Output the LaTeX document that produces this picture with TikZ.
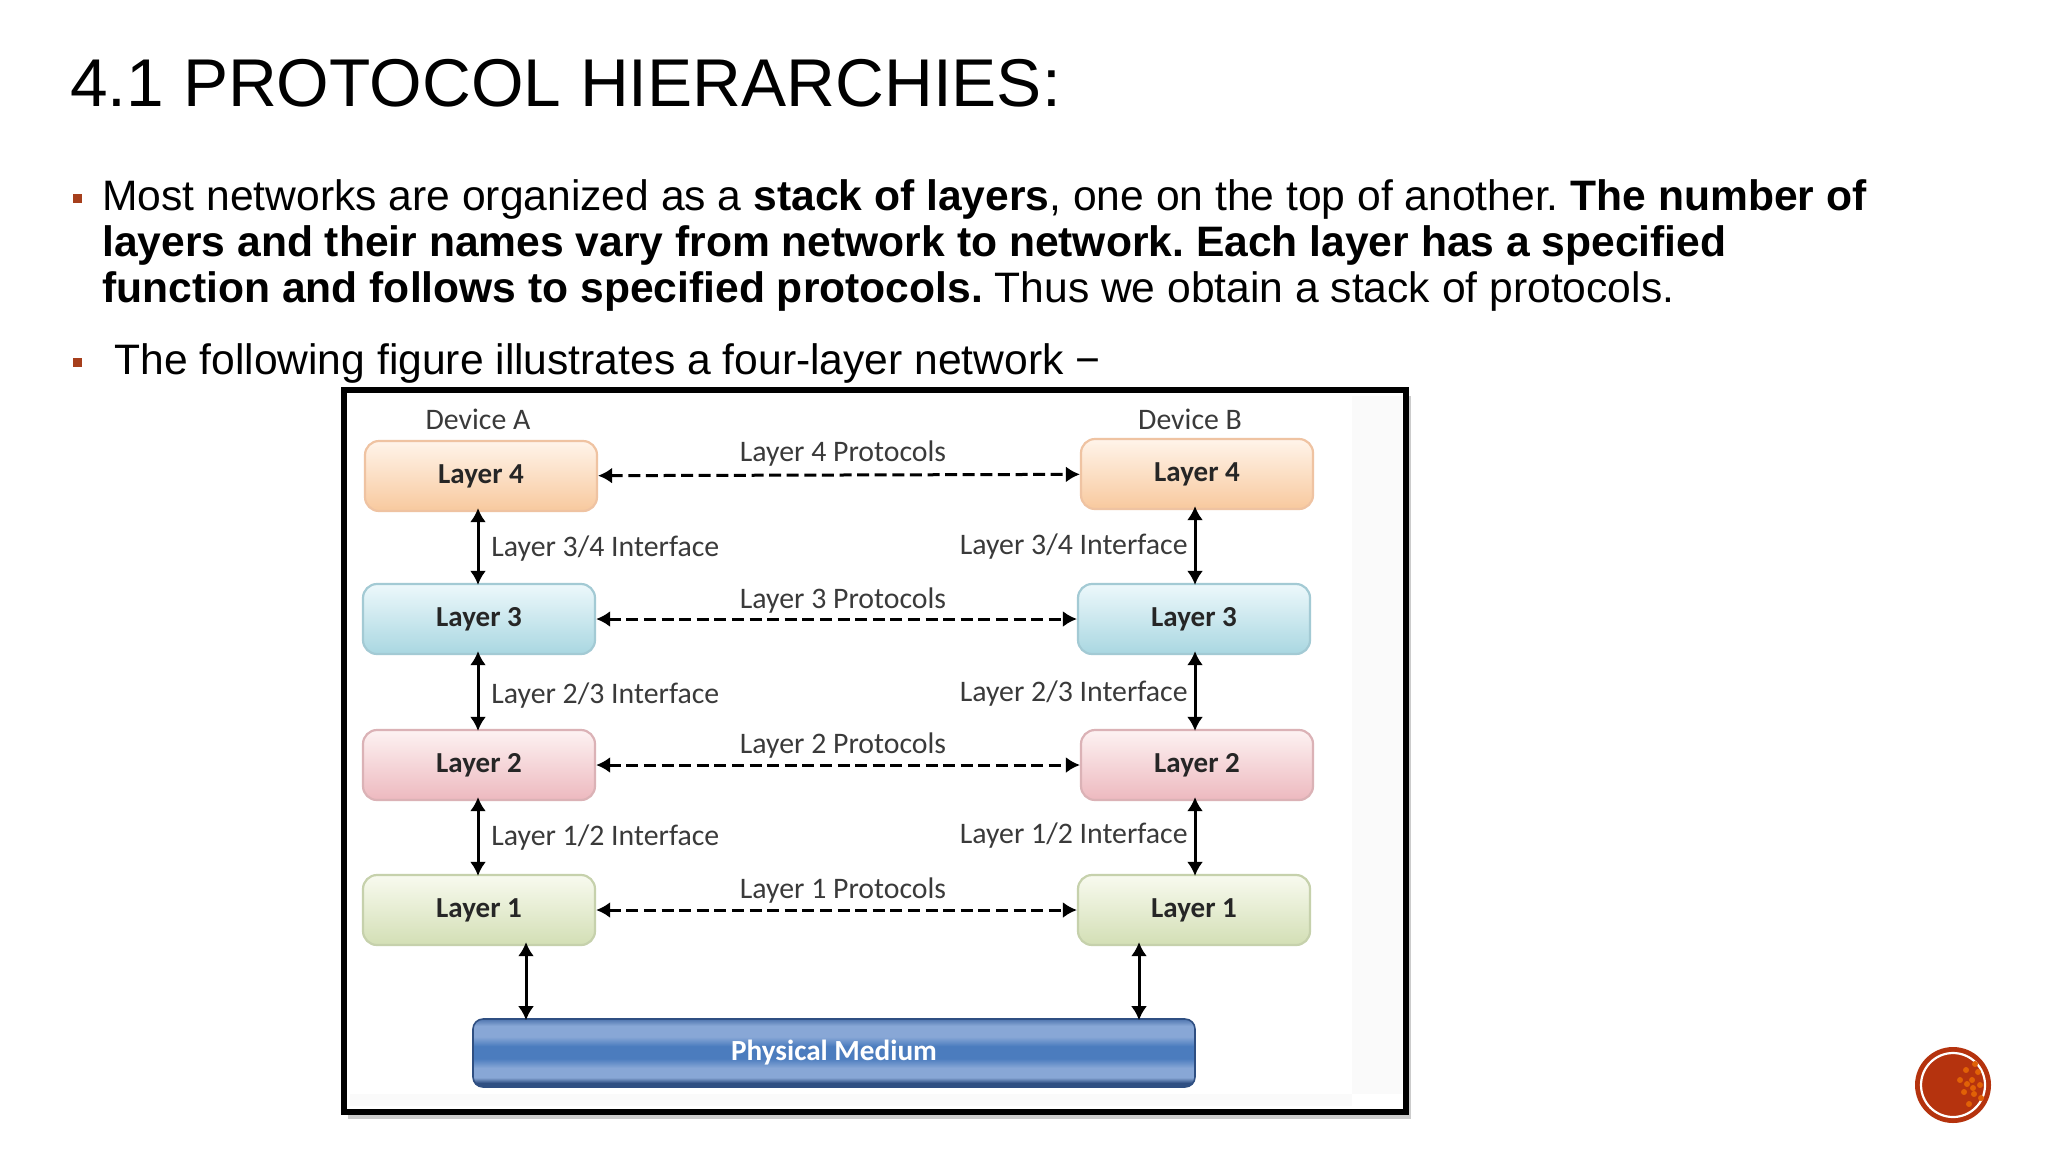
\documentclass[tikz,border=0pt]{standalone}
\usepackage{fontspec}
\setmainfont{Liberation Sans}
\newfontfamily\figfont{Carlito}
\usetikzlibrary{arrows.meta}
\definecolor{slideRed}{HTML}{B5330E}
\definecolor{slideRust}{HTML}{A63F1C}
\definecolor{labelGray}{HTML}{3A3A3A}
\definecolor{orangeTop}{HTML}{FFF4EA}\definecolor{orangeBot}{HTML}{F8C99E}\definecolor{orangeEdge}{HTML}{EFC3A2}
\definecolor{blueTop}{HTML}{EDF8FB}\definecolor{blueBot}{HTML}{A9D7E1}\definecolor{blueEdge}{HTML}{A3CAD4}
\definecolor{redTop}{HTML}{FDF2F2}\definecolor{redBot}{HTML}{EDB9BF}\definecolor{redEdge}{HTML}{DBB2B6}
\definecolor{greenTop}{HTML}{F8FAEF}\definecolor{greenBot}{HTML}{D3DFB5}\definecolor{greenEdge}{HTML}{C6D1AC}
\definecolor{phyDark}{HTML}{2F4F82}\definecolor{phyLight}{HTML}{88A7D6}\definecolor{phyMid}{HTML}{4B7CBE}\definecolor{phyEdge}{HTML}{4F75AE}
\pgfdeclareverticalshading{physical shade}{100bp}{
  color(0bp)=(phyDark);color(28bp)=(phyDark);color(32bp)=(phyLight);color(39bp)=(phyLight);color(46bp)=(phyMid);color(55bp)=(phyMid);color(62bp)=(phyLight);color(70bp)=(phyLight);color(75bp)=(phyEdge);color(100bp)=(phyEdge)}
\tikzset{
  layer box/.style={draw=#1Edge, line width=1.1pt, rounded corners=7pt, top color=#1Top, bottom color=#1Bot, minimum width=116pt, minimum height=35pt, inner sep=0pt, font=\figfont\bfseries\fontsize{14.5}{16}\selectfont, text=black!85},
  layer arrow/.style={draw=black, line width=1.5pt, {Latex[length=7pt,width=8pt]}-{Latex[length=7pt,width=8pt]}},
  proto arrow/.style={layer arrow, dash pattern=on 6pt off 2.8pt},
  fig label/.style={font=\figfont\fontsize{14.9}{16}\selectfont, text=labelGray, inner sep=0pt},
  bullet mark/.style={fill=slideRust, minimum size=4.5pt, inner sep=0pt},
  body text/.style={anchor=north west, align=left, inner sep=0pt, font=\frenchspacing\fontsize{21.3}{23}\selectfont},
}
\begin{document}
\begin{tikzpicture}[x=.5pt,y=-.5pt]
\useasboundingbox(0,0)rectangle(2048,1152);
\fill[white](0,0)rectangle(2048,1152);
\node[anchor=base west,inner sep=0pt,font=\fontsize{33.8}{38}\selectfont](title)at(70,106){4.1 PROTOCOL HIERARCHIES:};
\node[bullet mark](mark1)at(77.5,198.5){};\node[bullet mark](mark2)at(77.5,362){};
\node[body text](para1)at(102,179){Most networks are organized as a \textbf{stack of layers}, one on the top of another. \textbf{The number of}\\\textbf{layers and their names vary from network to network. Each layer has a specified}\\\textbf{function and follows to specified protocols.} Thus we obtain a stack of protocols.};
\node[body text](para2)at(114,343){The following figure illustrates a four-layer network −};
% picture frame
\fill[black!20](348,396)rectangle(1411,1119);
\fill[white](344,390)rectangle(1406,1112);
\fill[black!2](1352,396)rectangle(1402,1094);\fill[black!2](350,1094)rectangle(1352,1106);
\draw[line width=3.4pt](344,390)rectangle(1406,1112);
\foreach \n/\xa/\xb/\ya/\yb/\c in {4/481/1197/476/474/orange,3/479/1194/619/619/blue,2/479/1197/765/765/red,1/479/1194/910/910/green}{
  \node[layer box=\c](a\n)at(\xa,\ya){Layer \n};
  \node[layer box=\c](b\n)at(\xb,\yb){Layer \n};
  \draw[proto arrow](a\n)--(b\n);
}
\node[fig label](deva)at(478,419){Device A};\node[fig label](devb)at(1190,419){Device B};
\foreach \n/\y in {4/454,3/601,2/746,1/891}{\node[fig label](proto\n)at(843,\y){Layer \n\ Protocols};}
\coordinate(ca)at(478,0);\coordinate(cb)at(1195,0);
\foreach \up/\lo/\t/\y in {4/3/3\slash 4/549,3/2/2\slash 3/696,2/1/1\slash 2/838}{
  \draw[layer arrow,shorten <=-2pt,shorten >=-1pt](a\up.south-|ca)--(a\lo.north-|ca);
  \draw[layer arrow,shorten <=-2pt,shorten >=-1pt](b\up.south-|cb)--(b\lo.north-|cb);
  \node[fig label,anchor=west](ifa\up)at(491,\y){Layer \t\ Interface};
  \node[fig label,anchor=east](ifb\up)at(1188,\y-2){Layer \t\ Interface};
}
\node[draw=phyDark,line width=.8pt,rounded corners=5pt,shading=physical shade,minimum width=361pt,minimum height=34pt,inner sep=0pt,text=white,font=\figfont\bfseries\fontsize{14.6}{16}\selectfont](phy)at(834,1053){Physical Medium};
\coordinate(pa)at(526,1018);\coordinate(pb)at(1139,1018);
\draw[layer arrow,shorten <=-2pt,shorten >=-1pt](a1.south-|pa)--(phy.north-|pa);
\draw[layer arrow,shorten <=-2pt,shorten >=-1pt](b1.south-|pb)--(phy.north-|pb);
% corner badge
\node[circle,fill=slideRed,minimum size=38pt,inner sep=0pt](badge)at(1953,1085){};
\draw[white,line width=1.1pt](badge.center)circle[radius=32];
\foreach \x/\y in {1966/1070,1972/1080,1978/1072,1964/1092,1974/1094,1980/1085,1969/1104,1960/1080,1975/1064,1981/1098,1967/1084,1973/1088}{\fill[orange!60!slideRed](\x,\y)circle[radius=3];}
\end{tikzpicture}
\end{document}
